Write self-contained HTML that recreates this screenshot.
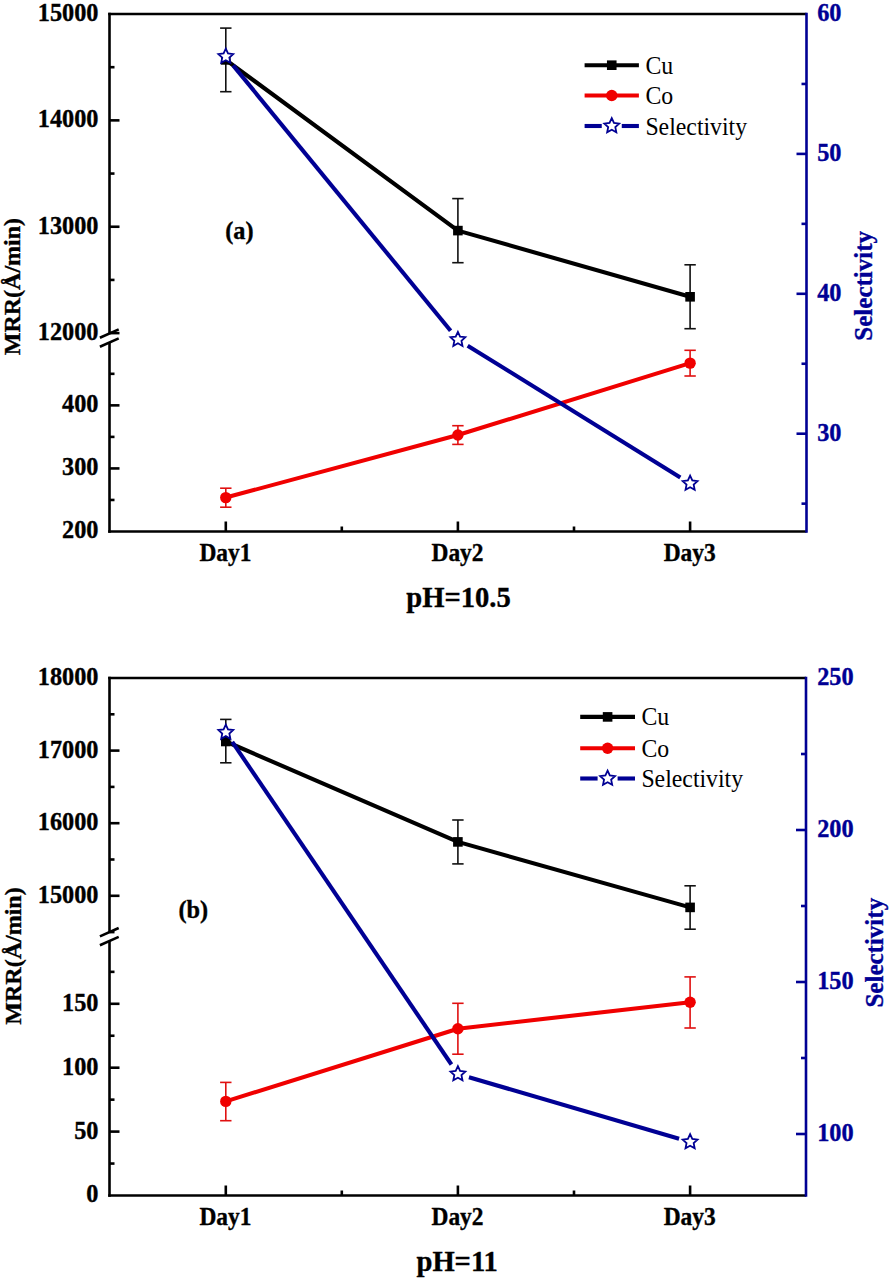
<!DOCTYPE html>
<html><head><meta charset="utf-8"><style>
html,body{margin:0;padding:0;background:#fff;}
svg{display:block;font-family:"Liberation Serif", serif;}
</style></head><body>
<svg width="892" height="1280" viewBox="0 0 892 1280">
<rect width="892" height="1280" fill="#fff"/>
<line x1="108.20" y1="14.00" x2="806.50" y2="14.00" stroke="#000000" stroke-width="2.6" stroke-linecap="butt"/>
<line x1="108.20" y1="531.50" x2="806.50" y2="531.50" stroke="#000000" stroke-width="2.6" stroke-linecap="butt"/>
<line x1="806.50" y1="12.70" x2="806.50" y2="532.80" stroke="#000094" stroke-width="2.6" stroke-linecap="butt"/>
<line x1="109.50" y1="12.70" x2="109.50" y2="333.60" stroke="#000000" stroke-width="2.6" stroke-linecap="butt"/>
<line x1="109.50" y1="342.60" x2="109.50" y2="532.80" stroke="#000000" stroke-width="2.6" stroke-linecap="butt"/>
<line x1="99.90" y1="337.80" x2="118.70" y2="329.40" stroke="#000000" stroke-width="2.6" stroke-linecap="butt"/>
<line x1="99.90" y1="346.80" x2="118.70" y2="338.40" stroke="#000000" stroke-width="2.6" stroke-linecap="butt"/>
<line x1="225.80" y1="531.50" x2="225.80" y2="521.50" stroke="#000000" stroke-width="2.6" stroke-linecap="butt"/>
<line x1="457.90" y1="531.50" x2="457.90" y2="521.50" stroke="#000000" stroke-width="2.6" stroke-linecap="butt"/>
<line x1="690.10" y1="531.50" x2="690.10" y2="521.50" stroke="#000000" stroke-width="2.6" stroke-linecap="butt"/>
<line x1="341.80" y1="531.50" x2="341.80" y2="526.50" stroke="#000000" stroke-width="2.6" stroke-linecap="butt"/>
<line x1="574.00" y1="531.50" x2="574.00" y2="526.50" stroke="#000000" stroke-width="2.6" stroke-linecap="butt"/>
<line x1="109.50" y1="120.37" x2="119.50" y2="120.37" stroke="#000000" stroke-width="2.6" stroke-linecap="butt"/>
<line x1="109.50" y1="226.74" x2="119.50" y2="226.74" stroke="#000000" stroke-width="2.6" stroke-linecap="butt"/>
<line x1="109.50" y1="333.11" x2="119.50" y2="333.11" stroke="#000000" stroke-width="2.6" stroke-linecap="butt"/>
<line x1="109.50" y1="67.19" x2="114.50" y2="67.19" stroke="#000000" stroke-width="2.6" stroke-linecap="butt"/>
<line x1="109.50" y1="173.56" x2="114.50" y2="173.56" stroke="#000000" stroke-width="2.6" stroke-linecap="butt"/>
<line x1="109.50" y1="279.93" x2="114.50" y2="279.93" stroke="#000000" stroke-width="2.6" stroke-linecap="butt"/>
<line x1="109.50" y1="468.43" x2="119.50" y2="468.43" stroke="#000000" stroke-width="2.6" stroke-linecap="butt"/>
<line x1="109.50" y1="405.36" x2="119.50" y2="405.36" stroke="#000000" stroke-width="2.6" stroke-linecap="butt"/>
<line x1="109.50" y1="499.96" x2="114.50" y2="499.96" stroke="#000000" stroke-width="2.6" stroke-linecap="butt"/>
<line x1="109.50" y1="436.89" x2="114.50" y2="436.89" stroke="#000000" stroke-width="2.6" stroke-linecap="butt"/>
<line x1="109.50" y1="373.82" x2="114.50" y2="373.82" stroke="#000000" stroke-width="2.6" stroke-linecap="butt"/>
<text transform="translate(98.50,20.90) scale(1,1.07)" font-size="24.3" text-anchor="end" font-weight="bold" fill="#000000"  stroke="#000000" stroke-width="0.35">15000</text>
<text transform="translate(98.50,127.27) scale(1,1.07)" font-size="24.3" text-anchor="end" font-weight="bold" fill="#000000"  stroke="#000000" stroke-width="0.35">14000</text>
<text transform="translate(98.50,233.64) scale(1,1.07)" font-size="24.3" text-anchor="end" font-weight="bold" fill="#000000"  stroke="#000000" stroke-width="0.35">13000</text>
<text transform="translate(98.50,340.01) scale(1,1.07)" font-size="24.3" text-anchor="end" font-weight="bold" fill="#000000"  stroke="#000000" stroke-width="0.35">12000</text>
<text transform="translate(98.50,538.40) scale(1,1.07)" font-size="24.3" text-anchor="end" font-weight="bold" fill="#000000"  stroke="#000000" stroke-width="0.35">200</text>
<text transform="translate(98.50,475.33) scale(1,1.07)" font-size="24.3" text-anchor="end" font-weight="bold" fill="#000000"  stroke="#000000" stroke-width="0.35">300</text>
<text transform="translate(98.50,412.26) scale(1,1.07)" font-size="24.3" text-anchor="end" font-weight="bold" fill="#000000"  stroke="#000000" stroke-width="0.35">400</text>
<line x1="806.50" y1="153.90" x2="796.50" y2="153.90" stroke="#000094" stroke-width="2.6" stroke-linecap="butt"/>
<line x1="806.50" y1="293.80" x2="796.50" y2="293.80" stroke="#000094" stroke-width="2.6" stroke-linecap="butt"/>
<line x1="806.50" y1="433.70" x2="796.50" y2="433.70" stroke="#000094" stroke-width="2.6" stroke-linecap="butt"/>
<line x1="806.50" y1="83.95" x2="801.50" y2="83.95" stroke="#000094" stroke-width="2.6" stroke-linecap="butt"/>
<line x1="806.50" y1="223.85" x2="801.50" y2="223.85" stroke="#000094" stroke-width="2.6" stroke-linecap="butt"/>
<line x1="806.50" y1="363.75" x2="801.50" y2="363.75" stroke="#000094" stroke-width="2.6" stroke-linecap="butt"/>
<line x1="806.50" y1="503.65" x2="801.50" y2="503.65" stroke="#000094" stroke-width="2.6" stroke-linecap="butt"/>
<text transform="translate(817.20,20.80) scale(1,1.03)" font-size="24.3" text-anchor="start" font-weight="bold" fill="#000094"  stroke="#000094" stroke-width="0.35">60</text>
<text transform="translate(817.20,160.70) scale(1,1.03)" font-size="24.3" text-anchor="start" font-weight="bold" fill="#000094"  stroke="#000094" stroke-width="0.35">50</text>
<text transform="translate(817.20,300.60) scale(1,1.03)" font-size="24.3" text-anchor="start" font-weight="bold" fill="#000094"  stroke="#000094" stroke-width="0.35">40</text>
<text transform="translate(817.20,440.50) scale(1,1.03)" font-size="24.3" text-anchor="start" font-weight="bold" fill="#000094"  stroke="#000094" stroke-width="0.35">30</text>
<text transform="translate(225.40,561.40) scale(1,1.03)" font-size="24.3" text-anchor="middle" font-weight="bold" fill="#000000" textLength="52" lengthAdjust="spacingAndGlyphs" stroke="#000000" stroke-width="0.35">Day1</text>
<text transform="translate(457.50,561.40) scale(1,1.03)" font-size="24.3" text-anchor="middle" font-weight="bold" fill="#000000" textLength="52" lengthAdjust="spacingAndGlyphs" stroke="#000000" stroke-width="0.35">Day2</text>
<text transform="translate(689.70,561.40) scale(1,1.03)" font-size="24.3" text-anchor="middle" font-weight="bold" fill="#000000" textLength="52" lengthAdjust="spacingAndGlyphs" stroke="#000000" stroke-width="0.35">Day3</text>
<text transform="translate(458.50,606.80) scale(1,1.04)" font-size="28.6" text-anchor="middle" font-weight="bold" fill="#000000"  stroke="#000000" stroke-width="0.35">pH=10.5</text>
<text x="225.20" y="239.00" font-size="24.3" text-anchor="start" font-weight="bold" fill="#000000"  stroke="#000000" stroke-width="0.35">(a)</text>
<text transform="translate(20.00,286.60) rotate(-90)" font-size="24.0" font-weight="bold" text-anchor="middle" fill="#000000" stroke="#000000" stroke-width="0.35">MRR(&#197;/min)</text>
<text transform="translate(872.40,285.80) rotate(-90)" font-size="25" font-weight="bold" text-anchor="middle" fill="#000094" stroke="#000094" stroke-width="0.35">Selectivity</text>
<line x1="225.80" y1="28.10" x2="225.80" y2="91.70" stroke="#111" stroke-width="1.6" stroke-linecap="butt"/>
<line x1="220.10" y1="28.10" x2="231.50" y2="28.10" stroke="#111" stroke-width="1.6" stroke-linecap="butt"/>
<line x1="220.10" y1="91.70" x2="231.50" y2="91.70" stroke="#111" stroke-width="1.6" stroke-linecap="butt"/>
<line x1="457.90" y1="198.60" x2="457.90" y2="262.70" stroke="#111" stroke-width="1.6" stroke-linecap="butt"/>
<line x1="452.20" y1="198.60" x2="463.60" y2="198.60" stroke="#111" stroke-width="1.6" stroke-linecap="butt"/>
<line x1="452.20" y1="262.70" x2="463.60" y2="262.70" stroke="#111" stroke-width="1.6" stroke-linecap="butt"/>
<line x1="690.10" y1="264.80" x2="690.10" y2="328.70" stroke="#111" stroke-width="1.6" stroke-linecap="butt"/>
<line x1="684.40" y1="264.80" x2="695.80" y2="264.80" stroke="#111" stroke-width="1.6" stroke-linecap="butt"/>
<line x1="684.40" y1="328.70" x2="695.80" y2="328.70" stroke="#111" stroke-width="1.6" stroke-linecap="butt"/>
<polyline points="225.80,59.90 457.90,230.60 690.10,296.80" fill="none" stroke="#000000" stroke-width="4.1" stroke-linejoin="round"/>
<rect x="221.00" y="55.10" width="9.6" height="9.6" fill="#000000"/>
<rect x="453.10" y="225.80" width="9.6" height="9.6" fill="#000000"/>
<rect x="685.30" y="292.00" width="9.6" height="9.6" fill="#000000"/>
<line x1="225.80" y1="488.20" x2="225.80" y2="507.20" stroke="#e01010" stroke-width="1.6" stroke-linecap="butt"/>
<line x1="220.10" y1="488.20" x2="231.50" y2="488.20" stroke="#e01010" stroke-width="1.6" stroke-linecap="butt"/>
<line x1="220.10" y1="507.20" x2="231.50" y2="507.20" stroke="#e01010" stroke-width="1.6" stroke-linecap="butt"/>
<line x1="457.90" y1="425.70" x2="457.90" y2="444.40" stroke="#e01010" stroke-width="1.6" stroke-linecap="butt"/>
<line x1="452.20" y1="425.70" x2="463.60" y2="425.70" stroke="#e01010" stroke-width="1.6" stroke-linecap="butt"/>
<line x1="452.20" y1="444.40" x2="463.60" y2="444.40" stroke="#e01010" stroke-width="1.6" stroke-linecap="butt"/>
<line x1="690.10" y1="350.30" x2="690.10" y2="376.00" stroke="#e01010" stroke-width="1.6" stroke-linecap="butt"/>
<line x1="684.40" y1="350.30" x2="695.80" y2="350.30" stroke="#e01010" stroke-width="1.6" stroke-linecap="butt"/>
<line x1="684.40" y1="376.00" x2="695.80" y2="376.00" stroke="#e01010" stroke-width="1.6" stroke-linecap="butt"/>
<polyline points="225.80,497.60 457.90,435.05 690.10,363.15" fill="none" stroke="#f00000" stroke-width="4.1" stroke-linejoin="round"/>
<circle cx="225.80" cy="497.60" r="5.7" fill="#f00000"/>
<circle cx="457.90" cy="435.05" r="5.7" fill="#f00000"/>
<circle cx="690.10" cy="363.15" r="5.7" fill="#f00000"/>
<line x1="233.09" y1="65.39" x2="450.61" y2="330.71" stroke="#000094" stroke-width="4.1" stroke-linecap="butt"/>
<line x1="467.68" y1="345.66" x2="680.32" y2="477.44" stroke="#000094" stroke-width="4.1" stroke-linecap="butt"/>
<path d="M225.80,48.70 L228.00,53.47 L233.22,54.09 L229.36,57.66 L230.38,62.81 L225.80,60.24 L221.22,62.81 L222.24,57.66 L218.38,54.09 L223.60,53.47 Z" fill="#fff" stroke="#000094" stroke-width="1.8" stroke-linejoin="miter"/>
<path d="M457.90,331.80 L460.10,336.57 L465.32,337.19 L461.46,340.76 L462.48,345.91 L457.90,343.34 L453.32,345.91 L454.34,340.76 L450.48,337.19 L455.70,336.57 Z" fill="#fff" stroke="#000094" stroke-width="1.8" stroke-linejoin="miter"/>
<path d="M690.10,475.70 L692.30,480.47 L697.52,481.09 L693.66,484.66 L694.68,489.81 L690.10,487.24 L685.52,489.81 L686.54,484.66 L682.68,481.09 L687.90,480.47 Z" fill="#fff" stroke="#000094" stroke-width="1.8" stroke-linejoin="miter"/>
<line x1="584.60" y1="65.20" x2="638.90" y2="65.20" stroke="#000000" stroke-width="4.1" stroke-linecap="butt"/>
<rect x="606.95" y="60.40" width="9.6" height="9.6" fill="#000000"/>
<line x1="584.60" y1="95.50" x2="638.90" y2="95.50" stroke="#f00000" stroke-width="4.1" stroke-linecap="butt"/>
<circle cx="611.75" cy="95.50" r="5.7" fill="#f00000"/>
<line x1="584.60" y1="126.00" x2="601.75" y2="126.00" stroke="#000094" stroke-width="4.1" stroke-linecap="butt"/>
<line x1="621.75" y1="126.00" x2="638.90" y2="126.00" stroke="#000094" stroke-width="4.1" stroke-linecap="butt"/>
<path d="M611.75,118.20 L613.95,122.97 L619.17,123.59 L615.31,127.16 L616.33,132.31 L611.75,129.74 L607.17,132.31 L608.19,127.16 L604.33,123.59 L609.55,122.97 Z" fill="#fff" stroke="#000094" stroke-width="1.8" stroke-linejoin="miter"/>
<text transform="translate(645.40,73.70) scale(1,1.07)" font-size="23.8" text-anchor="start" font-weight="normal" fill="#000000" >Cu</text>
<text transform="translate(645.40,104.00) scale(1,1.07)" font-size="23.8" text-anchor="start" font-weight="normal" fill="#000000" >Co</text>
<text transform="translate(645.40,134.50) scale(1,1.07)" font-size="23.8" text-anchor="start" font-weight="normal" fill="#000000" >Selectivity</text>
<line x1="108.20" y1="678.00" x2="806.00" y2="678.00" stroke="#000000" stroke-width="2.6" stroke-linecap="butt"/>
<line x1="108.20" y1="1195.50" x2="806.00" y2="1195.50" stroke="#000000" stroke-width="2.6" stroke-linecap="butt"/>
<line x1="806.00" y1="676.70" x2="806.00" y2="1196.80" stroke="#000094" stroke-width="2.6" stroke-linecap="butt"/>
<line x1="109.50" y1="676.70" x2="109.50" y2="932.20" stroke="#000000" stroke-width="2.6" stroke-linecap="butt"/>
<line x1="109.50" y1="941.10" x2="109.50" y2="1196.80" stroke="#000000" stroke-width="2.6" stroke-linecap="butt"/>
<line x1="99.90" y1="936.40" x2="118.70" y2="928.00" stroke="#000000" stroke-width="2.6" stroke-linecap="butt"/>
<line x1="99.90" y1="945.30" x2="118.70" y2="936.90" stroke="#000000" stroke-width="2.6" stroke-linecap="butt"/>
<line x1="225.80" y1="1195.50" x2="225.80" y2="1185.50" stroke="#000000" stroke-width="2.6" stroke-linecap="butt"/>
<line x1="457.90" y1="1195.50" x2="457.90" y2="1185.50" stroke="#000000" stroke-width="2.6" stroke-linecap="butt"/>
<line x1="690.10" y1="1195.50" x2="690.10" y2="1185.50" stroke="#000000" stroke-width="2.6" stroke-linecap="butt"/>
<line x1="341.80" y1="1195.50" x2="341.80" y2="1190.50" stroke="#000000" stroke-width="2.6" stroke-linecap="butt"/>
<line x1="574.00" y1="1195.50" x2="574.00" y2="1190.50" stroke="#000000" stroke-width="2.6" stroke-linecap="butt"/>
<line x1="109.50" y1="750.60" x2="119.50" y2="750.60" stroke="#000000" stroke-width="2.6" stroke-linecap="butt"/>
<line x1="109.50" y1="823.20" x2="119.50" y2="823.20" stroke="#000000" stroke-width="2.6" stroke-linecap="butt"/>
<line x1="109.50" y1="895.80" x2="119.50" y2="895.80" stroke="#000000" stroke-width="2.6" stroke-linecap="butt"/>
<line x1="109.50" y1="714.30" x2="114.50" y2="714.30" stroke="#000000" stroke-width="2.6" stroke-linecap="butt"/>
<line x1="109.50" y1="786.90" x2="114.50" y2="786.90" stroke="#000000" stroke-width="2.6" stroke-linecap="butt"/>
<line x1="109.50" y1="859.50" x2="114.50" y2="859.50" stroke="#000000" stroke-width="2.6" stroke-linecap="butt"/>
<line x1="109.50" y1="932.10" x2="114.50" y2="932.10" stroke="#000000" stroke-width="2.6" stroke-linecap="butt"/>
<line x1="109.50" y1="1131.60" x2="119.50" y2="1131.60" stroke="#000000" stroke-width="2.6" stroke-linecap="butt"/>
<line x1="109.50" y1="1067.70" x2="119.50" y2="1067.70" stroke="#000000" stroke-width="2.6" stroke-linecap="butt"/>
<line x1="109.50" y1="1003.80" x2="119.50" y2="1003.80" stroke="#000000" stroke-width="2.6" stroke-linecap="butt"/>
<line x1="109.50" y1="1163.55" x2="114.50" y2="1163.55" stroke="#000000" stroke-width="2.6" stroke-linecap="butt"/>
<line x1="109.50" y1="1099.65" x2="114.50" y2="1099.65" stroke="#000000" stroke-width="2.6" stroke-linecap="butt"/>
<line x1="109.50" y1="1035.75" x2="114.50" y2="1035.75" stroke="#000000" stroke-width="2.6" stroke-linecap="butt"/>
<line x1="109.50" y1="971.85" x2="114.50" y2="971.85" stroke="#000000" stroke-width="2.6" stroke-linecap="butt"/>
<text transform="translate(98.50,684.90) scale(1,1.07)" font-size="24.3" text-anchor="end" font-weight="bold" fill="#000000"  stroke="#000000" stroke-width="0.35">18000</text>
<text transform="translate(98.50,757.50) scale(1,1.07)" font-size="24.3" text-anchor="end" font-weight="bold" fill="#000000"  stroke="#000000" stroke-width="0.35">17000</text>
<text transform="translate(98.50,830.10) scale(1,1.07)" font-size="24.3" text-anchor="end" font-weight="bold" fill="#000000"  stroke="#000000" stroke-width="0.35">16000</text>
<text transform="translate(98.50,902.70) scale(1,1.07)" font-size="24.3" text-anchor="end" font-weight="bold" fill="#000000"  stroke="#000000" stroke-width="0.35">15000</text>
<text transform="translate(98.50,1202.40) scale(1,1.07)" font-size="24.3" text-anchor="end" font-weight="bold" fill="#000000"  stroke="#000000" stroke-width="0.35">0</text>
<text transform="translate(98.50,1138.50) scale(1,1.07)" font-size="24.3" text-anchor="end" font-weight="bold" fill="#000000"  stroke="#000000" stroke-width="0.35">50</text>
<text transform="translate(98.50,1074.60) scale(1,1.07)" font-size="24.3" text-anchor="end" font-weight="bold" fill="#000000"  stroke="#000000" stroke-width="0.35">100</text>
<text transform="translate(98.50,1010.70) scale(1,1.07)" font-size="24.3" text-anchor="end" font-weight="bold" fill="#000000"  stroke="#000000" stroke-width="0.35">150</text>
<line x1="806.00" y1="830.00" x2="796.00" y2="830.00" stroke="#000094" stroke-width="2.6" stroke-linecap="butt"/>
<line x1="806.00" y1="982.00" x2="796.00" y2="982.00" stroke="#000094" stroke-width="2.6" stroke-linecap="butt"/>
<line x1="806.00" y1="1134.00" x2="796.00" y2="1134.00" stroke="#000094" stroke-width="2.6" stroke-linecap="butt"/>
<line x1="806.00" y1="754.00" x2="801.00" y2="754.00" stroke="#000094" stroke-width="2.6" stroke-linecap="butt"/>
<line x1="806.00" y1="906.00" x2="801.00" y2="906.00" stroke="#000094" stroke-width="2.6" stroke-linecap="butt"/>
<line x1="806.00" y1="1058.00" x2="801.00" y2="1058.00" stroke="#000094" stroke-width="2.6" stroke-linecap="butt"/>
<text transform="translate(817.20,684.80) scale(1,1.03)" font-size="24.3" text-anchor="start" font-weight="bold" fill="#000094"  stroke="#000094" stroke-width="0.35">250</text>
<text transform="translate(817.20,836.80) scale(1,1.03)" font-size="24.3" text-anchor="start" font-weight="bold" fill="#000094"  stroke="#000094" stroke-width="0.35">200</text>
<text transform="translate(817.20,988.80) scale(1,1.03)" font-size="24.3" text-anchor="start" font-weight="bold" fill="#000094"  stroke="#000094" stroke-width="0.35">150</text>
<text transform="translate(817.20,1140.80) scale(1,1.03)" font-size="24.3" text-anchor="start" font-weight="bold" fill="#000094"  stroke="#000094" stroke-width="0.35">100</text>
<text transform="translate(225.40,1225.40) scale(1,1.03)" font-size="24.3" text-anchor="middle" font-weight="bold" fill="#000000" textLength="52" lengthAdjust="spacingAndGlyphs" stroke="#000000" stroke-width="0.35">Day1</text>
<text transform="translate(457.50,1225.40) scale(1,1.03)" font-size="24.3" text-anchor="middle" font-weight="bold" fill="#000000" textLength="52" lengthAdjust="spacingAndGlyphs" stroke="#000000" stroke-width="0.35">Day2</text>
<text transform="translate(689.70,1225.40) scale(1,1.03)" font-size="24.3" text-anchor="middle" font-weight="bold" fill="#000000" textLength="52" lengthAdjust="spacingAndGlyphs" stroke="#000000" stroke-width="0.35">Day3</text>
<text transform="translate(457.20,1271.00) scale(1,1.04)" font-size="28.6" text-anchor="middle" font-weight="bold" fill="#000000"  stroke="#000000" stroke-width="0.35">pH=11</text>
<text x="178.50" y="917.80" font-size="24.3" text-anchor="start" font-weight="bold" fill="#000000"  stroke="#000000" stroke-width="0.35">(b)</text>
<text transform="translate(20.60,956.00) rotate(-90)" font-size="24.0" font-weight="bold" text-anchor="middle" fill="#000000" stroke="#000000" stroke-width="0.35">MRR(&#197;/min)</text>
<text transform="translate(883.00,952.70) rotate(-90)" font-size="25" font-weight="bold" text-anchor="middle" fill="#000094" stroke="#000094" stroke-width="0.35">Selectivity</text>
<line x1="225.80" y1="719.40" x2="225.80" y2="762.80" stroke="#111" stroke-width="1.6" stroke-linecap="butt"/>
<line x1="220.10" y1="719.40" x2="231.50" y2="719.40" stroke="#111" stroke-width="1.6" stroke-linecap="butt"/>
<line x1="220.10" y1="762.80" x2="231.50" y2="762.80" stroke="#111" stroke-width="1.6" stroke-linecap="butt"/>
<line x1="457.90" y1="820.00" x2="457.90" y2="863.90" stroke="#111" stroke-width="1.6" stroke-linecap="butt"/>
<line x1="452.20" y1="820.00" x2="463.60" y2="820.00" stroke="#111" stroke-width="1.6" stroke-linecap="butt"/>
<line x1="452.20" y1="863.90" x2="463.60" y2="863.90" stroke="#111" stroke-width="1.6" stroke-linecap="butt"/>
<line x1="690.10" y1="885.80" x2="690.10" y2="929.20" stroke="#111" stroke-width="1.6" stroke-linecap="butt"/>
<line x1="684.40" y1="885.80" x2="695.80" y2="885.80" stroke="#111" stroke-width="1.6" stroke-linecap="butt"/>
<line x1="684.40" y1="929.20" x2="695.80" y2="929.20" stroke="#111" stroke-width="1.6" stroke-linecap="butt"/>
<polyline points="225.80,741.50 457.90,841.90 690.10,907.40" fill="none" stroke="#000000" stroke-width="4.1" stroke-linejoin="round"/>
<rect x="221.00" y="736.70" width="9.6" height="9.6" fill="#000000"/>
<rect x="453.10" y="837.10" width="9.6" height="9.6" fill="#000000"/>
<rect x="685.30" y="902.60" width="9.6" height="9.6" fill="#000000"/>
<line x1="225.80" y1="1082.40" x2="225.80" y2="1120.70" stroke="#e01010" stroke-width="1.6" stroke-linecap="butt"/>
<line x1="220.10" y1="1082.40" x2="231.50" y2="1082.40" stroke="#e01010" stroke-width="1.6" stroke-linecap="butt"/>
<line x1="220.10" y1="1120.70" x2="231.50" y2="1120.70" stroke="#e01010" stroke-width="1.6" stroke-linecap="butt"/>
<line x1="457.90" y1="1003.30" x2="457.90" y2="1054.20" stroke="#e01010" stroke-width="1.6" stroke-linecap="butt"/>
<line x1="452.20" y1="1003.30" x2="463.60" y2="1003.30" stroke="#e01010" stroke-width="1.6" stroke-linecap="butt"/>
<line x1="452.20" y1="1054.20" x2="463.60" y2="1054.20" stroke="#e01010" stroke-width="1.6" stroke-linecap="butt"/>
<line x1="690.10" y1="976.90" x2="690.10" y2="1028.00" stroke="#e01010" stroke-width="1.6" stroke-linecap="butt"/>
<line x1="684.40" y1="976.90" x2="695.80" y2="976.90" stroke="#e01010" stroke-width="1.6" stroke-linecap="butt"/>
<line x1="684.40" y1="1028.00" x2="695.80" y2="1028.00" stroke="#e01010" stroke-width="1.6" stroke-linecap="butt"/>
<polyline points="225.80,1101.40 457.90,1028.70 690.10,1002.20" fill="none" stroke="#f00000" stroke-width="4.1" stroke-linejoin="round"/>
<circle cx="225.80" cy="1101.40" r="5.7" fill="#f00000"/>
<circle cx="457.90" cy="1028.70" r="5.7" fill="#f00000"/>
<circle cx="690.10" cy="1002.20" r="5.7" fill="#f00000"/>
<line x1="232.26" y1="741.91" x2="451.44" y2="1064.49" stroke="#000094" stroke-width="4.1" stroke-linecap="butt"/>
<line x1="468.94" y1="1077.23" x2="679.06" y2="1138.77" stroke="#000094" stroke-width="4.1" stroke-linecap="butt"/>
<path d="M225.80,724.60 L228.00,729.37 L233.22,729.99 L229.36,733.56 L230.38,738.71 L225.80,736.14 L221.22,738.71 L222.24,733.56 L218.38,729.99 L223.60,729.37 Z" fill="#fff" stroke="#000094" stroke-width="1.8" stroke-linejoin="miter"/>
<path d="M457.90,1066.20 L460.10,1070.97 L465.32,1071.59 L461.46,1075.16 L462.48,1080.31 L457.90,1077.74 L453.32,1080.31 L454.34,1075.16 L450.48,1071.59 L455.70,1070.97 Z" fill="#fff" stroke="#000094" stroke-width="1.8" stroke-linejoin="miter"/>
<path d="M690.10,1134.20 L692.30,1138.97 L697.52,1139.59 L693.66,1143.16 L694.68,1148.31 L690.10,1145.74 L685.52,1148.31 L686.54,1143.16 L682.68,1139.59 L687.90,1138.97 Z" fill="#fff" stroke="#000094" stroke-width="1.8" stroke-linejoin="miter"/>
<line x1="580.20" y1="716.90" x2="635.00" y2="716.90" stroke="#000000" stroke-width="4.1" stroke-linecap="butt"/>
<rect x="602.80" y="712.10" width="9.6" height="9.6" fill="#000000"/>
<line x1="580.20" y1="748.20" x2="635.00" y2="748.20" stroke="#f00000" stroke-width="4.1" stroke-linecap="butt"/>
<circle cx="607.60" cy="748.20" r="5.7" fill="#f00000"/>
<line x1="580.20" y1="778.50" x2="597.60" y2="778.50" stroke="#000094" stroke-width="4.1" stroke-linecap="butt"/>
<line x1="617.60" y1="778.50" x2="635.00" y2="778.50" stroke="#000094" stroke-width="4.1" stroke-linecap="butt"/>
<path d="M607.60,770.70 L609.80,775.47 L615.02,776.09 L611.16,779.66 L612.18,784.81 L607.60,782.24 L603.02,784.81 L604.04,779.66 L600.18,776.09 L605.40,775.47 Z" fill="#fff" stroke="#000094" stroke-width="1.8" stroke-linejoin="miter"/>
<text transform="translate(641.40,725.40) scale(1,1.07)" font-size="23.8" text-anchor="start" font-weight="normal" fill="#000000" >Cu</text>
<text transform="translate(641.40,756.70) scale(1,1.07)" font-size="23.8" text-anchor="start" font-weight="normal" fill="#000000" >Co</text>
<text transform="translate(641.40,787.00) scale(1,1.07)" font-size="23.8" text-anchor="start" font-weight="normal" fill="#000000" >Selectivity</text>
</svg></body></html>
